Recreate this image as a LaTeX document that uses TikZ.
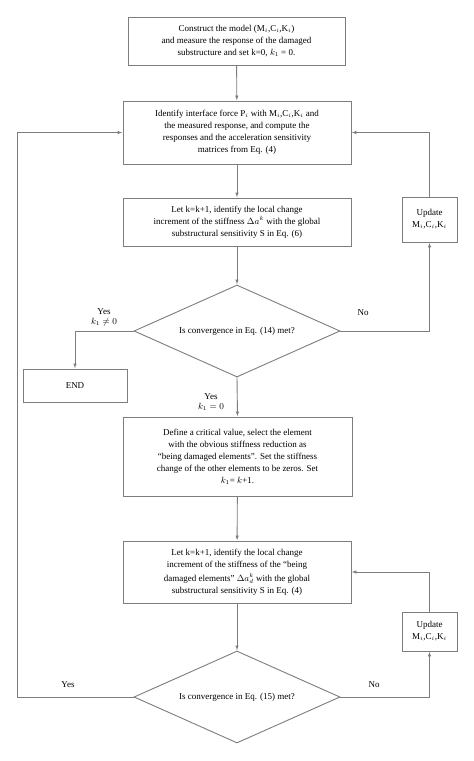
\documentclass[tikz,border=0pt]{standalone}
\usepackage{fontspec}
\setmainfont{Liberation Serif}
\usetikzlibrary{shapes.geometric,arrows.meta}
\definecolor{linegray}{RGB}{125,125,125}
\tikzset{
  stepbox/.style={draw=linegray,line width=0.9pt,rectangle,align=center,inner sep=2pt,
    font=\fontsize{9}{12}\selectfont},
  decision/.style={draw=linegray,line width=0.9pt,diamond,aspect=2.24,inner sep=0pt,
    minimum width=206pt,minimum height=92pt,font=\fontsize{9}{12}\selectfont},
  flow/.style={draw=linegray,line width=0.9pt,-{Latex[length=5pt,width=3.5pt]}},
  tag/.style={align=center,font=\fontsize{9}{10}\selectfont}
}
\begin{document}
\begin{tikzpicture}[x=1pt,y=-1pt]
  \useasboundingbox[fill=white] (0,0) rectangle (474,761);
  % boxes
  \node[stepbox,minimum width=217pt,minimum height=48pt] (start) at (236.5,41)
    {Construct the model (M$_i$,C$_i$,K$_i$)\\and measure the response of the damaged\\substructure and set k=0, $k_1$ = 0.};
  \node[stepbox,minimum width=228pt,minimum height=63pt] (ident) at (237,132.5)
    {Identify interface force P$_i$ with M$_i$,C$_i$,K$_i$ and\\the measured response, and compute the\\responses and the acceleration sensitivity\\matrices from Eq. (4)};
  \node[stepbox,minimum width=228pt,minimum height=48pt] (local) at (237,222)
    {Let k=k+1, identify the local change\\increment of the stiffness $\Delta a^k$ with the global\\substructural sensitivity S in Eq. (6)};
  \node[stepbox,minimum width=55pt,minimum height=45pt] (upda) at (429.5,219.5)
    {Update\\M$_i$,C$_i$,K$_i$};
  \node[decision] (conva) at (237,331) {Is convergence in Eq. (14) met?};
  \node[stepbox,minimum width=104pt,minimum height=33pt] (stop) at (75,385.5) {END};
  \node[stepbox,minimum width=229pt,minimum height=79pt] (crit) at (237.5,456.5)
    {Define a critical value, select the element\\with the obvious stiffness reduction as\\``being damaged elements''. Set the stiffness\\change of the other elements to be zeros. Set\\$k_1$= $k$+1.};
  \node[stepbox,minimum width=228pt,minimum height=62pt] (dmg) at (237,572)
    {Let k=k+1, identify the local change\\increment of the stiffness of the ``being\\[2pt]damaged elements'' $\Delta a_d^k$ with the global\\substructural sensitivity S in Eq. (4)};
  \node[stepbox,minimum width=55pt,minimum height=39pt] (updb) at (429.5,631.5)
    {Update\\M$_i$,C$_i$,K$_i$};
  \node[decision] (convb) at (237,697) {Is convergence in Eq. (15) met?};
  % labels
  \node[tag] (noa) at (363,313) {No};
  \node[tag] (yesa) at (104,317) {Yes\\$k_1\neq 0$};
  \node[tag] (yesb) at (211,402) {Yes\\$k_1 = 0$};
  \node[tag] (yesc) at (68,685) {Yes};
  \node[tag] (nob) at (374,685) {No};
  \coordinate (back) at (17,697);
  % connectors
  \draw[flow] (start) -- (ident);
  \draw[flow] (ident) -- (local);
  \draw[flow] (local) -- (conva);
  \draw[flow] (conva.east) -| (upda.south);
  \draw[flow] (upda.north) |- (ident.east);
  \draw[flow] (conva.west) -| (stop.north);
  \draw[flow] (conva.south) -- (crit.north);
  \draw[flow] (crit) -- (dmg);
  \draw[flow] (dmg) -- (convb);
  \draw[flow] (convb.east) -| (updb.south);
  \draw[flow] (updb.north) |- (dmg.east);
  \draw[flow] (convb.west) -- (back) |- (ident.west);
\end{tikzpicture}
\end{document}
